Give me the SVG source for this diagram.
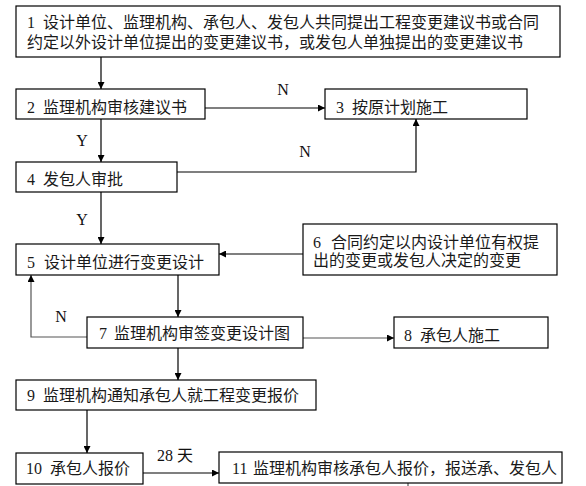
<svg xmlns="http://www.w3.org/2000/svg" width="586" height="486" viewBox="0 0 586 486">
<defs>
<style>
.box{fill:#fff;stroke:#000;stroke-width:1.2}
.t{font-family:"Liberation Serif","Noto Sans CJK SC",serif;font-size:16px;fill:#1a1a1a}
.lbl{font-family:"Liberation Serif","Noto Sans CJK SC",serif;font-size:16px;fill:#111}
.c{fill:none;stroke:#000;stroke-width:1.2}
.g{stroke:#555}
</style>
<marker id="ah" viewBox="0 0 10 10" refX="10" refY="5" markerWidth="7" markerHeight="7" markerUnits="userSpaceOnUse" orient="auto">
<path d="M0,0 L10,5 L0,10 z" fill="#000"/>
</marker>
</defs>
<rect width="586" height="486" fill="#fff"/>
<g id="connectors">
<line class="c" x1="101" y1="57" x2="101" y2="89" marker-end="url(#ah)"/>
<line class="c" x1="205" y1="108" x2="325" y2="108" marker-end="url(#ah)"/>
<line class="c" x1="101" y1="119" x2="101" y2="162" marker-end="url(#ah)"/>
<polyline class="c" points="177,172 416,172 416,119" marker-end="url(#ah)"/>
<line class="c" x1="101" y1="192" x2="101" y2="244" marker-end="url(#ah)"/>
<line class="c" x1="303" y1="254" x2="219" y2="254" marker-end="url(#ah)"/>
<line class="c" x1="178" y1="275" x2="178" y2="317" marker-end="url(#ah)"/>
<polyline class="c g" points="87,337 31,337 31,275" marker-end="url(#ah)"/>
<line class="c g" x1="303" y1="338" x2="394" y2="338" marker-end="url(#ah)"/>
<line class="c" x1="178" y1="348" x2="178" y2="380" marker-end="url(#ah)"/>
<line class="c" x1="87" y1="410" x2="87" y2="453" marker-end="url(#ah)"/>
<line class="c" x1="143" y1="473" x2="219" y2="473" marker-end="url(#ah)"/>
<line class="c g" x1="408" y1="483" x2="408" y2="486"/>
<text class="lbl" x="283" y="95" text-anchor="middle">N</text>
<text class="lbl" x="82" y="146" text-anchor="middle">Y</text>
<text class="lbl" x="305" y="157" text-anchor="middle">N</text>
<text class="lbl" x="82" y="225" text-anchor="middle">Y</text>
<text class="lbl" x="61" y="322" text-anchor="middle">N</text>
<text class="lbl" x="157" y="461">28 天</text>
</g>
<g id="n1"><rect class="box" x="16" y="6" width="544" height="51"/>
<text class="t" x="27" y="28">1 <tspan x="43">设计单位、监理机构、承包人、发包人共同提出工程变更建议书或合同</tspan></text>
<text class="t" x="27" y="48">约定以外设计单位提出的变更建议书，或发包人单独提出的变更建议书</text></g>
<g id="n2"><rect class="box" x="16" y="89" width="189" height="30"/><text class="t" x="27" y="113">2 <tspan x="43">监理机构审核建议书</tspan></text></g>
<g id="n3"><rect class="box" x="325" y="89" width="202" height="30"/><text class="t" x="336" y="113">3 <tspan x="352">按原计划施工</tspan></text></g>
<g id="n4"><rect class="box" x="16" y="162" width="161" height="30"/><text class="t" x="27" y="185">4 <tspan x="43">发包人审批</tspan></text></g>
<g id="n5"><rect class="box" x="16" y="244" width="203" height="31"/><text class="t" x="27" y="268">5 <tspan x="44">设计单位进行变更设计</tspan></text></g>
<g id="n6"><rect class="box" x="303" y="224" width="254" height="51"/>
<text class="t" x="313" y="248">6 <tspan x="331">合同约定以内设计单位有权提</tspan></text>
<text class="t" x="313" y="266">出的变更或发包人决定的变更</text></g>
<g id="n7"><rect class="box" x="87" y="317" width="216" height="31"/><text class="t" x="99" y="339">7 <tspan x="114">监理机构审签变更设计图</tspan></text></g>
<g id="n8"><rect class="box" x="394" y="317" width="154" height="31"/><text class="t" x="404" y="341">8 <tspan x="420">承包人施工</tspan></text></g>
<g id="n9"><rect class="box" x="16" y="380" width="300" height="30"/><text class="t" x="27" y="401">9 <tspan x="43">监理机构通知承包人就工程变更报价</tspan></text></g>
<g id="n10"><rect class="box" x="16" y="453" width="127" height="31"/><text class="t" x="26" y="474">10 <tspan x="50">承包人报价</tspan></text></g>
<g id="n11"><rect class="box" x="219" y="452" width="343" height="31"/><text class="t" x="232" y="474">11 <tspan x="253">监理机构审核承包人报价，报送承、发包人</tspan></text></g>
</svg>
